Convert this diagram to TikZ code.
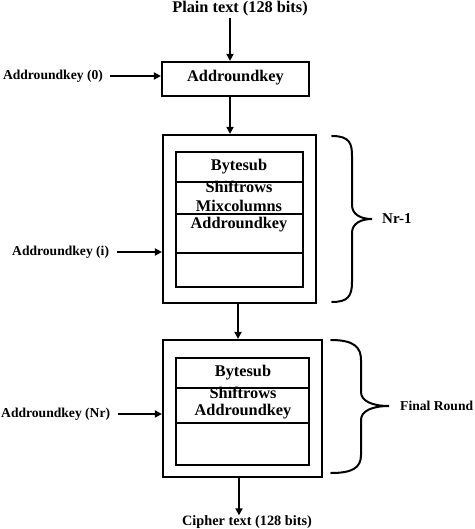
\documentclass[tikz,border=0pt]{standalone}
\usepackage{fontspec}
\setmainfont{Liberation Serif}
\usetikzlibrary{arrows.meta}
\begin{document}
\begin{tikzpicture}[x=1pt,y=-1pt,
  box/.style={draw,line width=2.2pt,inner sep=0pt},
  big/.style={font=\fontsize{16.3}{18}\selectfont\bfseries,inner sep=0pt},
  small/.style={font=\fontsize{13.6}{15}\selectfont\bfseries,inner sep=0pt},
  arr/.style={line width=1.8pt,-{Triangle[length=7pt,width=7pt]}},
  sep/.style={line width=2pt},
  brace/.style={line width=2pt,line cap=round}]
\useasboundingbox (0,0) rectangle (474,529);
% top
\node[big] (pt) at (240,9) {Plain text (128 bits)};
\node[box,minimum width=147pt,minimum height=34pt] (ark) at (235.5,79) {};
\node[big] at (235.5,78) {Addroundkey};
\node[small,anchor=west,outer xsep=0pt] (k0) at (3,76) {Addroundkey (0)};
\coordinate (k0e) at ([xshift=7pt]k0.east);
\coordinate (a0) at (230,18);
\draw[arr] (a0) -- (a0 |- ark.north);
\draw[arr] (k0e) -- (k0e -| ark.west);
% round box 1
\node[box,minimum width=153pt,minimum height=168pt] (r1) at (239.5,219) {};
\node[box,minimum width=127pt,minimum height=135pt] (i1) at (239.5,219.5) {};
\draw[sep] (i1.west |- 0,182) -- (i1.east |- 0,182);
\draw[sep] (i1.west |- 0,214) -- (i1.east |- 0,214);
\draw[sep] (i1.west |- 0,253) -- (i1.east |- 0,253);
\node[big] (b1) at (239,167) {Bytesub};
\node[big] (s1) at (239,187) {Shiftrows};
\node[big] (m1) at (239,206) {Mixcolumns};
\node[big] (d1) at (239,225) {Addroundkey};
\node[small,anchor=west] (ki) at (12,252) {Addroundkey (i)};
\coordinate (kie) at ([xshift=8pt]ki.east);
\draw[arr] (kie) -- (kie -| r1.west);
\coordinate (c1) at (230,96);
\draw[arr] (c1 |- ark.south) -- (c1 |- r1.north);
% round box 2
\node[box,minimum width=159pt,minimum height=137pt] (r2) at (242.5,408.5) {};
\node[box,minimum width=133pt,minimum height=107pt] (i2) at (242.5,411.5) {};
\draw[sep] (i2.west |- 0,388) -- (i2.east |- 0,388);
\draw[sep] (i2.west |- 0,423) -- (i2.east |- 0,423);
\node[big] (b2) at (243,373) {Bytesub};
\node[big] (s2) at (243,393) {Shiftrows};
\node[big] (d2) at (243,412) {Addroundkey};
\node[small,anchor=west] (kn) at (1,414) {Addroundkey (Nr)};
\coordinate (kne) at ([xshift=8pt]kn.east);
\draw[arr] (kne) -- (kne -| r2.west);
\coordinate (c2) at (238,300);
\draw[arr] (c2 |- r1.south) -- (c2 |- r2.north);
% bottom
\node[small,font=\fontsize{14.3}{16}\selectfont\bfseries] (ct) at (247,522) {Cipher text (128 bits)};
\coordinate (c3) at (239,480);
\draw[arr] (c3 |- r2.south) -- (c3 |- ct.north);
% braces
\draw[brace] (332,136) .. controls (350,136) and (352,144) .. (352,156) -- (352,205)
  .. controls (352,214) and (360,219) .. (372,219)
  .. controls (360,219) and (352,224) .. (352,233) -- (352,282)
  .. controls (352,296) and (348,302) .. (332,302);
\node[small,anchor=west,font=\fontsize{15}{16}\selectfont\bfseries] (nr) at (382,219) {Nr-1};
\draw[brace] (331,340) .. controls (355,340) and (361,348) .. (361,360) -- (361,392)
  .. controls (361,401) and (372,406) .. (389,406)
  .. controls (372,406) and (361,411) .. (361,420) -- (361,455)
  .. controls (361,468) and (352,473) .. (331,473);
\node[small,anchor=west] (fr) at (400,406) {Final Round};
\end{tikzpicture}
\end{document}
